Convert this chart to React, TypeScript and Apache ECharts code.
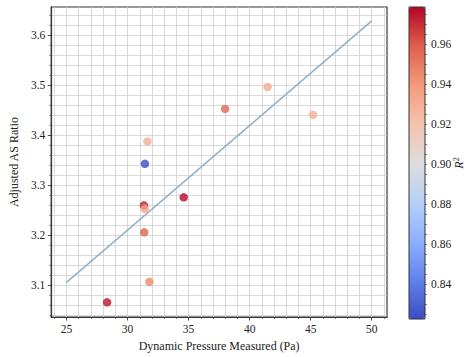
import React, { useEffect, useRef } from "react";
import * as echarts from "echarts";

// Measured data
const pressure = [28.32, 31.34, 31.42, 31.36, 31.79, 34.6, 31.42, 31.63, 37.99, 41.47, 45.2];
const asRatio = [3.065, 3.259, 3.252, 3.205, 3.106, 3.275, 3.342, 3.387, 3.452, 3.496, 3.44];
const r2Values = [0.975, 0.972, 0.935, 0.958, 0.945, 0.978, 0.8224, 0.93, 0.956, 0.932, 0.929];

// Fit line
const fitX = [25, 50];
const fitY = [3.105, 3.628];

// Ticks
const xMajorTicks = [25, 30, 35, 40, 45, 50];
const xMinorTicks = [24, 25, 26, 27, 28, 29, 30, 31, 32, 33, 34, 35, 36, 37, 38, 39, 40, 41, 42, 43, 44, 45, 46, 47, 48, 49, 50, 51];
const yMajorTicks = [3.1, 3.2, 3.3, 3.4, 3.5, 3.6];
const yMinorTicks = [3.04, 3.06, 3.08, 3.1, 3.12, 3.14, 3.16, 3.18, 3.2, 3.22, 3.24, 3.26, 3.28, 3.3, 3.32, 3.34, 3.36, 3.38, 3.4, 3.42, 3.44, 3.46, 3.48, 3.5, 3.52, 3.54, 3.56, 3.58, 3.6, 3.62, 3.64];
const cbMajorTicks = [0.84, 0.86, 0.88, 0.9, 0.92, 0.94, 0.96];
const cbMinorTicks = [0.825, 0.83, 0.835, 0.84, 0.845, 0.85, 0.855, 0.86, 0.865, 0.87, 0.875, 0.88, 0.885, 0.89, 0.895, 0.9, 0.905, 0.91, 0.915, 0.92, 0.925, 0.93, 0.935, 0.94, 0.945, 0.95, 0.955, 0.96, 0.965, 0.97, 0.975];

const xRange = [23.75, 51.25];
const yRange = [3.0355, 3.6558];
const cbRange = [0.8224, 0.9784];

const coolwarm = ["#3b4cc0", "#6282ea", "#8db0fe", "#b8d0f9", "#dddddd", "#f5c4ad", "#f49a7b", "#de604d", "#b40426"];

const FONT = "Liberation Serif";
const AXIS_COLOR = "#333333";

export default function App() {
  const ref = useRef<HTMLDivElement>(null);
  useEffect(() => {
    if (!ref.current) return;
    const chart = echarts.init(ref.current, undefined, { renderer: "svg" });
    const scatterData = pressure.map((p, i) => [p, asRatio[i], r2Values[i]]);
    const fitData = fitX.map((x, i) => [x, fitY[i]]);
    const labelStyle = { fontFamily: FONT, fontSize: 11.5, color: "#222" };
    chart.setOption({
      animation: false,
      textStyle: { fontFamily: FONT },
      grid: [
        { left: 42, top: 7, width: 345, height: 311, show: true, borderColor: AXIS_COLOR, borderWidth: 1.2, backgroundColor: "transparent" },
        { left: 409, top: 7, width: 16, height: 312, show: true, borderColor: AXIS_COLOR, borderWidth: 1, backgroundColor: "transparent", z: 10 },
      ],
      xAxis: [
        {
          gridIndex: 0, type: "value", min: xRange[0], max: xRange[1], position: "bottom",
          axisLine: { show: true, lineStyle: { color: AXIS_COLOR, width: 1.2 } },
          axisTick: { show: true, inside: false, length: 3.5, customValues: xMajorTicks, lineStyle: { color: AXIS_COLOR, width: 0.8 } },
          axisLabel: { show: true, customValues: xMajorTicks, margin: 6, ...labelStyle },
          splitLine: { show: false },
          name: "Dynamic Pressure Measured (Pa)", nameLocation: "middle", nameGap: 21,
          nameTextStyle: { fontFamily: FONT, fontSize: 12, color: "#222" },
        },
        {
          gridIndex: 0, type: "value", min: xRange[0], max: xRange[1], position: "bottom", offset: 0,
          axisLine: { show: false },
          axisTick: { show: true, inside: false, length: 2, customValues: xMinorTicks, lineStyle: { color: AXIS_COLOR, width: 0.6 } },
          axisLabel: { show: false },
          splitLine: { show: true, lineStyle: { color: "#d0d0d0", width: 0.8 } },
        },
        { gridIndex: 1, type: "value", show: false, min: 0, max: 1 },
      ],
      yAxis: [
        {
          gridIndex: 0, type: "value", min: yRange[0], max: yRange[1], position: "left",
          axisLine: { show: true, lineStyle: { color: AXIS_COLOR, width: 1.2 } },
          axisTick: { show: true, inside: false, length: 3.5, customValues: yMajorTicks, lineStyle: { color: AXIS_COLOR, width: 0.8 } },
          axisLabel: { show: true, customValues: yMajorTicks, margin: 6, formatter: (v: number) => v.toFixed(1), ...labelStyle },
          splitLine: { show: false },
          name: "Adjusted AS Ratio", nameLocation: "middle", nameGap: 29, nameRotate: 90,
          nameTextStyle: { fontFamily: FONT, fontSize: 12, color: "#222" },
        },
        {
          gridIndex: 0, type: "value", min: yRange[0], max: yRange[1], position: "left", offset: 0,
          axisLine: { show: false },
          axisTick: { show: true, inside: false, length: 2, customValues: yMinorTicks, lineStyle: { color: AXIS_COLOR, width: 0.6 } },
          axisLabel: { show: false },
          splitLine: { show: true, lineStyle: { color: "#d0d0d0", width: 0.8 } },
        },
        {
          gridIndex: 1, type: "value", min: cbRange[0], max: cbRange[1], position: "right",
          axisLine: { show: false },
          axisTick: { show: true, inside: false, length: 3.5, customValues: cbMajorTicks, lineStyle: { color: AXIS_COLOR, width: 0.8 } },
          axisLabel: { show: true, customValues: cbMajorTicks, margin: 6, formatter: (v: number) => v.toFixed(2), ...labelStyle },
          splitLine: { show: false },
        },
        {
          gridIndex: 1, type: "value", min: cbRange[0], max: cbRange[1], position: "right", offset: 0,
          axisLine: { show: false },
          axisTick: { show: true, inside: false, length: 2, customValues: cbMinorTicks, lineStyle: { color: AXIS_COLOR, width: 0.6 } },
          axisLabel: { show: false },
          splitLine: { show: false },
        },
      ],
      visualMap: {
        type: "continuous",
        min: cbRange[0],
        max: cbRange[1],
        dimension: 2,
        seriesIndex: 1,
        calculable: false,
        hoverLink: false,
        left: 409,
        top: 7,
        padding: 0,
        itemWidth: 16,
        itemHeight: 312,
        text: ["", ""],
        showLabel: false,
        inRange: { color: coolwarm },
      },
      graphic: [
        {
          type: "text",
          x: 459,
          y: 163,
          rotation: Math.PI / 2,
          style: {
            text: "{i|R}{s|2}",
            align: "center",
            verticalAlign: "middle",
            rich: {
              i: { fontFamily: FONT, fontStyle: "italic", fontSize: 12, fill: "#222" },
              s: { fontFamily: FONT, fontSize: 8, fill: "#222", verticalAlign: "top", padding: [0, 0, 6, 0] },
            },
          },
        },
      ],
      series: [
        {
          type: "line",
          xAxisIndex: 0,
          yAxisIndex: 0,
          data: fitData,
          showSymbol: false,
          symbol: "none",
          lineStyle: { color: "#8eaecb", width: 1.4 },
          z: 2,
          silent: true,
        },
        {
          type: "scatter",
          xAxisIndex: 0,
          yAxisIndex: 0,
          data: scatterData,
          symbolSize: 8.5,
          z: 3,
          silent: true,
        },
      ],
    });
    return () => chart.dispose();
  }, []);
  return <div ref={ref} style={{ width: 474, height: 357, position: "absolute", left: 0, top: 0 }} />;
}
